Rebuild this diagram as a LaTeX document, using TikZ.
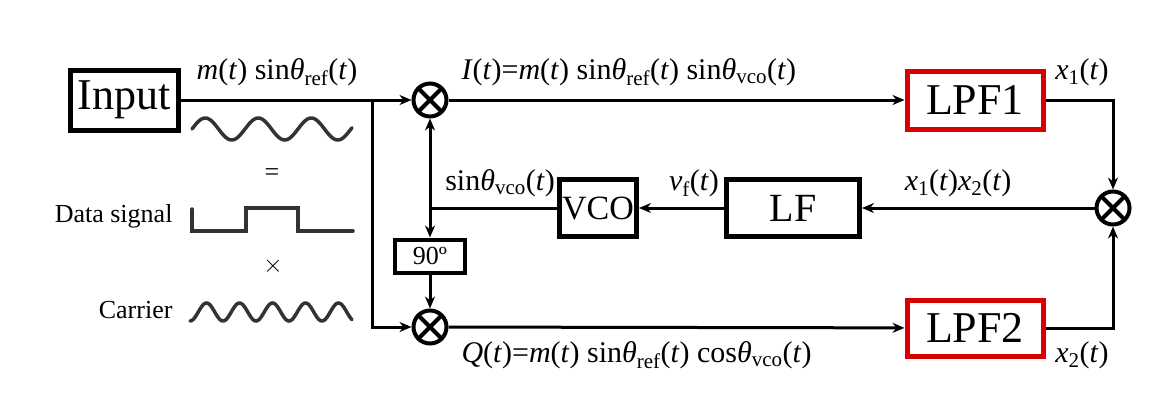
\documentclass[tikz,border=0pt]{standalone}
\usepackage{fontspec}
\setmainfont{Liberation Serif}
\usetikzlibrary{arrows.meta}
\begin{document}
\begin{tikzpicture}[x=1pt,y=-1pt,
 blk/.style={draw,line width=5pt,inner sep=0pt,font=\fontsize{44}{46}\selectfont},
 mix/.style={draw,line width=4pt,circle,minimum size=33pt,inner sep=0pt,path picture={\draw[line width=4pt] (path picture bounding box.north west)--(path picture bounding box.south east) (path picture bounding box.north east)--(path picture bounding box.south west);}},
 ln/.style={line width=3pt},
 ar/.style={ln,-{Stealth[length=12pt,width=10pt]}},
 lab/.style={font=\fontsize{30}{32}\selectfont},
 wave/.style={line width=3.5pt,draw=black!80,line cap=round}]
\useasboundingbox (0,0) rectangle (1161,400);
\node[blk,minimum width=108pt,minimum height=60pt] (in) at (124,100) {Input};
\node[mix] (m1) at (430,100) {};
\node[mix] (m2) at (430,327) {};
\node[mix] (m3) at (1113,208) {};
\node[blk,draw=red!85!black,minimum width=136pt,minimum height=58pt] (l1) at (975,100) {LPF1};
\node[blk,draw=red!85!black,minimum width=136pt,minimum height=56pt] (l2) at (975,328) {LPF2};
\node[blk,minimum width=133pt,minimum height=57pt,font=\fontsize{40}{42}\selectfont] (lf) at (793,208) {LF};
\node[blk,minimum width=77pt,minimum height=57pt,font=\fontsize{34}{36}\selectfont] (vco) at (598,208) {VCO};
\node[draw,line width=4pt,minimum width=70pt,minimum height=33pt,inner sep=0pt,font=\fontsize{26}{28}\selectfont] (ps) at (430,256) {90º};
\coordinate (br) at (372,100);
\coordinate (j) at (430,208);
\draw[ar] (in) -- (m1);
\draw[ar] (br) |- (m2);
\draw[ar] (m1) -- (l1);
\draw[ar] (l1.east) -| (m3);
\draw[ar] (l2.east) -| (m3);
\draw[ar] (m2) -- (l2);
\draw[ar] (m3) -- (lf);
\draw[ar] (lf) -- (vco);
\draw[ln] (vco) -- (j);
\draw[ar] (j) -- (m1);
\draw[ar] (j) -- (ps);
\draw[ar] (ps) -- (m2);
% waves
\draw[wave] plot[domain=0:160,samples=120] ({192+\x},{129-11*sin(\x*6.7925)});
\draw[wave] (192,209) -- (192,231) -- (246,231) -- (246,208) -- (298,208) -- (298,231) -- (353,231);
\draw[wave] plot[domain=0:162,samples=160] ({190+\x},{312+9*cos(\x*10.909)});
\node[font=\fontsize{26}{28}\selectfont] (eq) at (272,175) {=};
\node[font=\fontsize{30}{32}\selectfont] (tm) at (273,266) {$\times$};
\node[font=\fontsize{26}{28}\selectfont,anchor=east] (ds) at (176,216) {Data signal};
\node[font=\fontsize{26}{28}\selectfont,anchor=east] (ca) at (176,310) {Carrier};
\node[lab] (t1) at (277,72) {\textit{m}(\textit{t}) sin\textit{θ}\textsubscript{ref}(\textit{t})};
\node[lab,anchor=west] (t2) at (458,72) {\textit{I}(\textit{t})=\textit{m}(\textit{t}) sin\textit{θ}\textsubscript{ref}(\textit{t}) sin\textit{θ}\textsubscript{vco}(\textit{t})};
\node[lab] (t3) at (1082,72) {\textit{x}\textsubscript{1}(\textit{t})};
\node[lab] (t4) at (500,183) {sin\textit{θ}\textsubscript{vco}(\textit{t})};
\node[lab] (t5) at (694,183) {\textit{v}\textsubscript{f}(\textit{t})};
\node[lab] (t6) at (958,183) {\textit{x}\textsubscript{1}(\textit{t})\textit{x}\textsubscript{2}(\textit{t})};
\node[lab,anchor=west] (t7) at (458,355) {\textit{Q}(\textit{t})=\textit{m}(\textit{t}) sin\textit{θ}\textsubscript{ref}(\textit{t}) cos\textit{θ}\textsubscript{vco}(\textit{t})};
\node[lab] (t8) at (1082,355) {\textit{x}\textsubscript{2}(\textit{t})};
\end{tikzpicture}
\end{document}
